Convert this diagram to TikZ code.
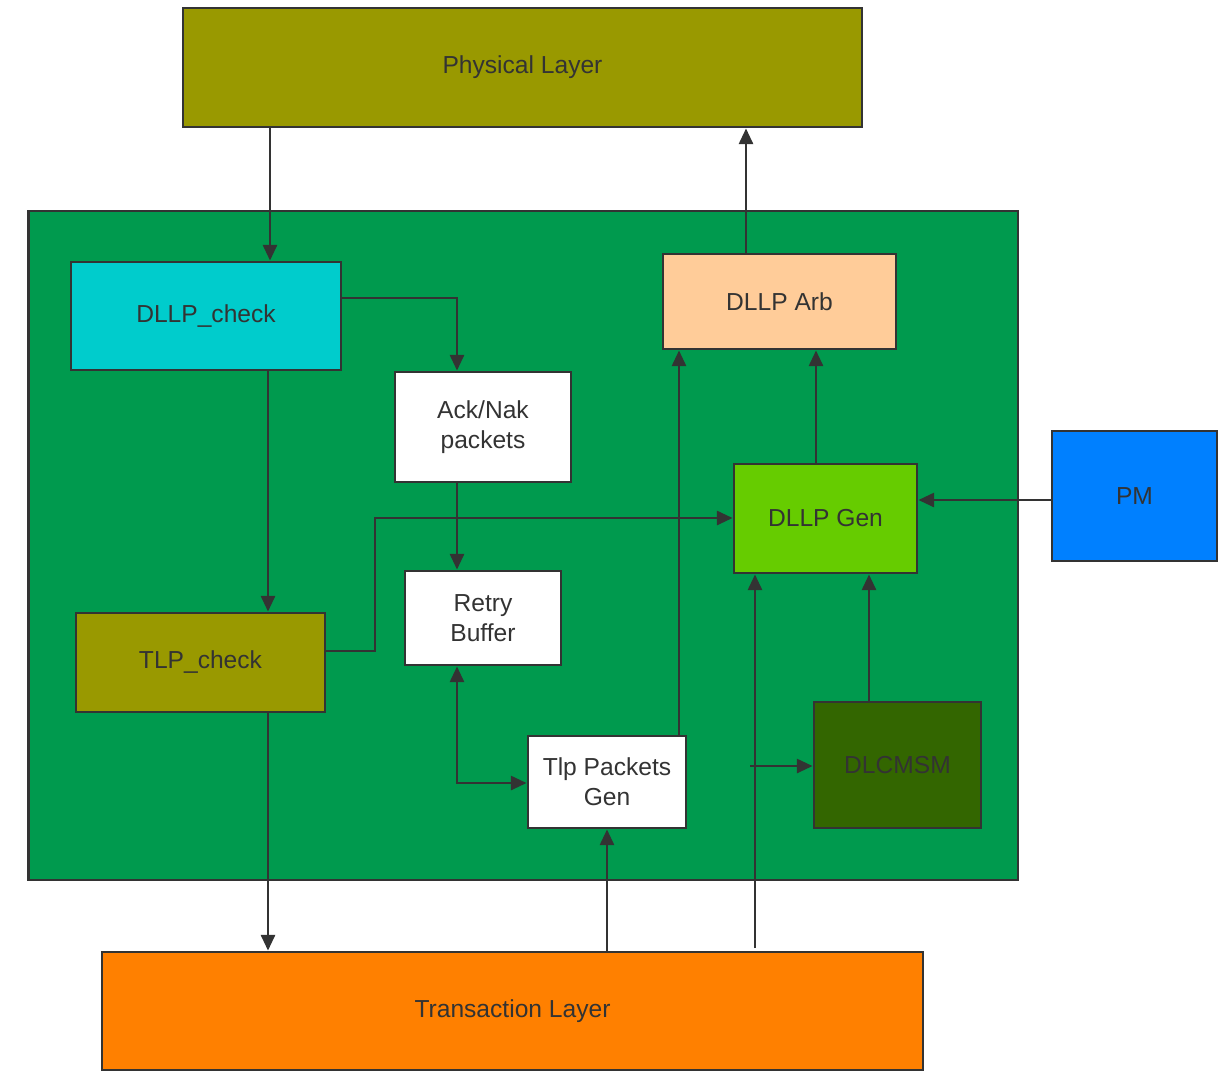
\documentclass[tikz,border=0pt]{standalone}
\usepackage{fontspec}
\setmainfont{Liberation Sans}
\usetikzlibrary{arrows.meta}
\definecolor{ln}{HTML}{333333}
\begin{document}
\begin{tikzpicture}[x=0.02cm,y=-0.02cm,
  box/.style={draw=ln,line width=1.6pt,text=ln,font=\fontsize{14}{17}\selectfont,align=center,inner sep=0pt},
  ar/.style={draw=ln,line width=1.6pt,-{Triangle[length=9pt,width=8pt]}},
  ar2/.style={draw=ln,line width=1.6pt,{Triangle[length=9pt,width=8pt]}-{Triangle[length=9pt,width=8pt]}}]
\useasboundingbox (0,0) rectangle (1227,1083);
\newcommand\bx[6]{\node[box,fill=#6,minimum width=(#3-#2)*0.02cm,minimum height=(#5-#4)*0.02cm] (#1) at ({(#2+#3)/2},{(#4+#5)/2}) {};}
\node[box,fill={rgb,255:red,0;green,154;blue,78},minimum width=19.8cm,minimum height=13.38cm] (big) at (523,545.5) {};
\node[box,fill={rgb,255:red,153;green,153;blue,0},minimum width=13.58cm,minimum height=2.38cm] (phy) at (522.5,67.5) {Physical Layer};
\node[box,fill={rgb,255:red,0;green,204;blue,204},minimum width=5.4cm,minimum height=2.16cm] (dc) at (206,316) {DLLP\_check};
\node[box,fill=white,minimum width=3.52cm,minimum height=2.2cm] (ack) at (483,427) {Ack/Nak\\packets};
\node[box,fill={rgb,255:red,255;green,204;blue,153},minimum width=4.66cm,minimum height=1.9cm] (arb) at (779.5,301.5) {DLLP Arb};
\node[box,fill={rgb,255:red,102;green,204;blue,0},minimum width=3.66cm,minimum height=2.18cm] (gen) at (825.5,518.5) {DLLP Gen};
\node[box,fill={rgb,255:red,0;green,128;blue,255},minimum width=3.3cm,minimum height=2.6cm] (pm) at (1134.5,496) {PM};
\node[box,fill=white,minimum width=3.12cm,minimum height=1.88cm] (rb) at (483,618) {Retry\\Buffer};
\node[box,fill={rgb,255:red,153;green,153;blue,0},minimum width=4.98cm,minimum height=1.98cm] (tc) at (200.5,662.5) {TLP\_check};
\node[box,fill=white,minimum width=3.16cm,minimum height=1.84cm] (tg) at (607,782) {Tlp Packets\\Gen};
\node[box,fill={rgb,255:red,51;green,102;blue,0},minimum width=3.34cm,minimum height=2.52cm] (dl) at (897.5,765) {DLCMSM};
\node[box,fill={rgb,255:red,255;green,128;blue,0},minimum width=16.42cm,minimum height=2.36cm] (tl) at (512.5,1011) {Transaction Layer};
\draw[ar] (phy.south -| 270,0) -- (dc.north -| 270,0);
\draw[ar] (arb.north -| 746,0) -- (phy.south -| 746,0);
\draw[ar] (dc.east |- 0,298) -- (457,298) -- (ack.north -| 457,0);
\draw[ar] (dc.south -| 268,0) -- (tc.north -| 268,0);
\draw[ar] (ack.south -| 457,0) -- (rb.north -| 457,0);
\draw[ar] (tc.east |- 0,651) -- (375,651) -- (375,518) -- (gen.west |- 0,518);
\draw[ar] (tg.north -| 679,0) -- (arb.south -| 679,0);
\draw[ar] (gen.north -| 816,0) -- (arb.south -| 816,0);
\draw[ar] (pm.west |- 0,500) -- (gen.east |- 0,500);
\draw[ar] (dl.north -| 869,0) -- (gen.south -| 869,0);
\coordinate (j) at (755,948);
\draw[ar] (j) -- (gen.south -| 755,0);
\coordinate (b) at (750,766);
\draw[ar] (b) -- (dl.west |- 0,766);
\draw[ar2] (rb.south -| 457,0) -- (457,783) -- (tg.west |- 0,783);
\draw[ar] (tc.south -| 268,0) -- (tl.north -| 268,0);
\draw[ar] (tl.north -| 607,0) -- (tg.south -| 607,0);
\end{tikzpicture}
\end{document}
